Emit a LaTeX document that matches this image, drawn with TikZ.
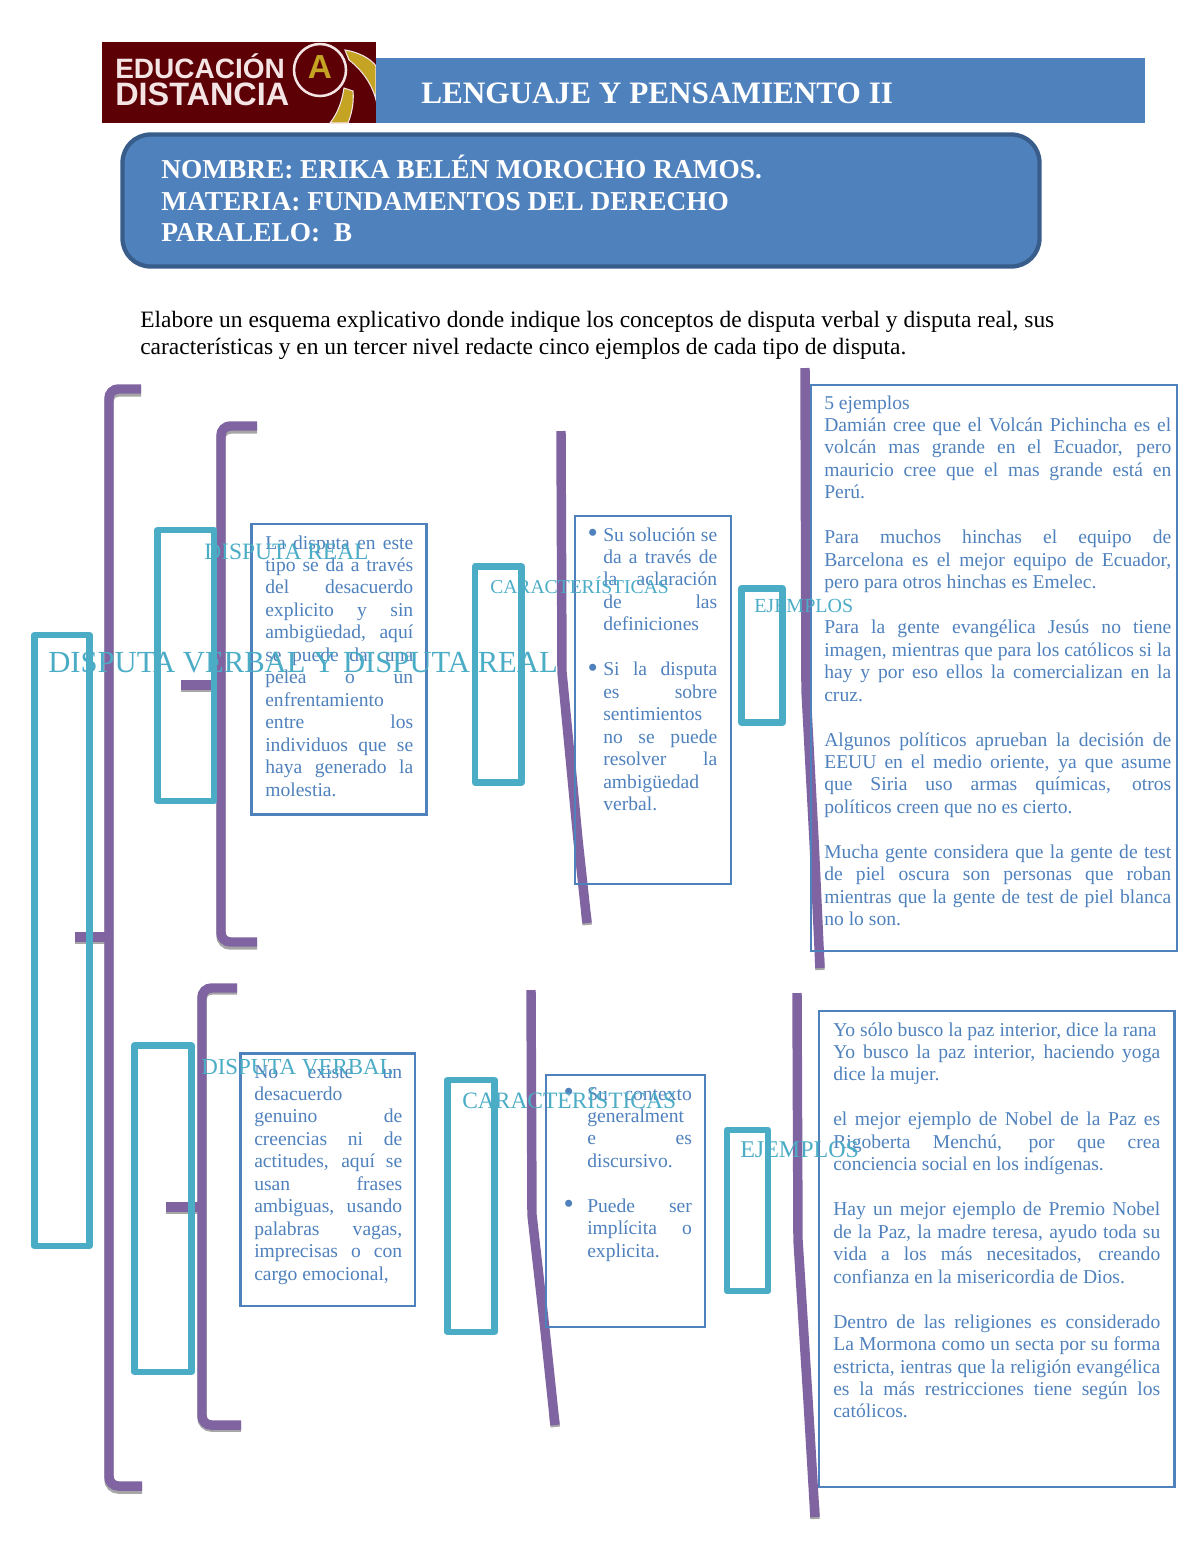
\documentclass[tikz,border=0pt]{standalone}
\usepackage{fontspec}
\usetikzlibrary{fit}
\setmainfont{Liberation Serif}
\newfontfamily\logofont{Liberation Sans}
\definecolor{hdrblue}{HTML}{4F81BD}
\definecolor{hdredge}{HTML}{385D8A}
\definecolor{tealc}{HTML}{4BACC6}
\definecolor{purplec}{HTML}{8064A2}
\definecolor{shadowc}{HTML}{A6A6A6}
\definecolor{maroonc}{HTML}{5C0006}
\definecolor{goldc}{HTML}{C4A422}
\definecolor{logotxt}{HTML}{F4E4E4}
\newcommand\Jl[1]{\hbox to\hsize{#1}}
\newcommand\Ll[1]{\hbox to\hsize{#1\hfil}}
\newcommand\Bl{\hbox{}}
\newcommand\Bu[1]{\llap{\fontsize{22pt}{22pt}\selectfont\raisebox{-1.2pt}{\textbullet}\hskip #1pt}}
\newcommand\bodyfont{\fontsize{14.7pt}{16.85pt}\selectfont}
\tikzset{
  px/.style={x=0.75pt,y=-0.75pt},
  barp/.style={draw=purplec,line width=7.1pt,rounded corners=7pt},
  bars/.style={draw=shadowc,line width=7.1pt,rounded corners=7pt},
  tealbox/.style={draw=tealc,line width=4.9pt,line join=round,inner sep=0pt},
  bluebox/.style={draw=hdrblue,line width=2pt,inner sep=0pt},
  bodytext/.style={anchor=base west,inner sep=0pt,text=hdrblue,font=\bodyfont},
  lbl/.style={anchor=base west,inner sep=0pt,text=tealc},
  hdr/.style={anchor=base west,inner sep=0pt,text=white,font=\bfseries}
}
\begin{document}
\begin{tikzpicture}[px]
\useasboundingbox (0,0) rectangle (1200,1553);
% logo
\fill[maroonc] (102,42) rectangle (376,123);
\fill[goldc,draw=logotxt,line width=0.8pt] (345,50) .. controls (358,52) and (370,58) .. (376,66) -- (376,100) .. controls (372,84) and (362,70) .. (349,60) -- cycle;
\fill[goldc,draw=logotxt,line width=0.8pt] (344,88) .. controls (342,101) and (338,113) .. (330,123) -- (348,123) .. controls (352,113) and (354,102) .. (353,91) -- cycle;
\draw[logotxt,line width=1.9pt,fill=maroonc] (320,70) circle (26);
\node[inner sep=0pt,text=goldc,font=\logofont\bfseries\fontsize{25pt}{25pt}\selectfont] (logoa) at (320,67) {A};
\node[anchor=base west,inner sep=0pt,text=logotxt,font=\logofont\bfseries\fontsize{21pt}{24pt}\selectfont] (logo1) at (115,78) {EDUCACIÓN};
\node[anchor=base west,inner sep=0pt,text=logotxt,font=\logofont\bfseries\fontsize{24.3pt}{24pt}\selectfont] (logo2) at (115,105) {DISTANCIA};
% header bar
\fill[hdrblue] (376,58) rectangle (1145,123);
\node[hdr,font=\bfseries\fontsize{23.4pt}{26pt}\selectfont] (title) at (421,103) {LENGUAJE Y PENSAMIENTO II};
% student box
\draw[fill=hdrblue,draw=hdredge,line width=3.2pt,rounded corners=21pt] (122.5,134.5) rectangle (1039.5,266.5);
\node[hdr,font=\bfseries\fontsize{20.5pt}{24pt}\selectfont] (nombre) at (161,178) {NOMBRE: ERIKA BELÉN MOROCHO RAMOS.};
\node[hdr,font=\bfseries\fontsize{20.5pt}{24pt}\selectfont] (materia) at (161,210) {MATERIA: FUNDAMENTOS DEL DERECHO};
\node[hdr,font=\bfseries\fontsize{20.5pt}{24pt}\selectfont] (paralelo) at (161,241) {PARALELO:\ \ B};
% statement
\node[anchor=base west,inner sep=0pt,font=\fontsize{17.6pt}{20pt}\selectfont] (stmt1) at (140,327) {\hbox to685.5pt{Elabore un esquema explicativo donde indique los conceptos de disputa verbal y disputa real, sus}};
\node[anchor=base west,inner sep=0pt,font=\fontsize{17.6pt}{20pt}\selectfont] (stmt2) at (140,354) {\hbox to574.5pt{características y en un tercer nivel redacte cinco ejemplos de cada tipo de disputa.}};
% purple brackets: shadows
\draw[bars] (141,392) -- (109,392) -- (109,1489) -- (142,1489);
\draw[bars] (75,939) -- (109,939);
\draw[bars] (257,429) -- (221,429) -- (221,945) -- (257,945);
\draw[bars] (181,687) -- (221,687);
\draw[bars] (237,990) -- (202,990) -- (202,1427) -- (241,1427);
\draw[bars] (166,1209) -- (202,1209);
\draw[bars,rounded corners=0pt] (586,913) -- (587.2,925);
\draw[bars,rounded corners=0pt] (819.5,958) -- (820,970);
\draw[bars,rounded corners=0pt] (554,1415) -- (555.2,1427);
\draw[bars,rounded corners=0pt] (814.5,1507) -- (815,1519);
% purple brackets
\draw[barp] (141,389) -- (109,389) -- (109,1486) -- (142,1486);
\draw[barp] (75,937) -- (109,937);
\draw[barp] (257,426) -- (221,426) -- (221,942) -- (257,942);
\draw[barp] (181,685) -- (221,685);
\draw[barp] (237,988) -- (202,988) -- (202,1425) -- (241,1425);
\draw[barp] (166,1207) -- (202,1207);
\draw[barp,rounded corners=0pt] (561,431) -- (562,672) -- (578,840) -- (587,923);
\draw[barp,rounded corners=0pt] (805,368) -- (806,690) -- (814,840) -- (820,968);
\draw[barp,rounded corners=0pt] (531,990) -- (532,1215) -- (545,1330) -- (555,1425);
\draw[barp,rounded corners=0pt] (797,993) -- (798,1240) -- (808,1400) -- (815,1517);
% teal rectangles
\node[tealbox,fit={(34.5,635)(89.5,1246)}] (t1) {};
\node[tealbox,fit={(157.5,530)(214,801)}] (t2) {};
\node[tealbox,fit={(475,566.5)(521.5,782.5)}] (t3) {};
\node[tealbox,fit={(741.5,588.5)(782.5,722.5)}] (t4) {};
\node[tealbox,fit={(134.5,1045.5)(191.5,1372)}] (t5) {};
\node[tealbox,fit={(447.5,1080)(494.5,1332)}] (t6) {};
\node[tealbox,fit={(727,1130)(768,1291)}] (t7) {};
% blue boxes
\node[bluebox,fit={(251.5,524)(426.5,814.5)}] (b1) {};
\node[bluebox,fit={(575,516)(731,884)}] (b2) {};
\node[bluebox,fit={(811,385)(1177,951)}] (b3) {};
\node[bluebox,fit={(240.5,1053.5)(415,1306)}] (b4) {};
\node[bluebox,fit={(546,1075)(705,1327)}] (b5) {};
\node[bluebox,fit={(819,1011)(1174.5,1487)}] (b6) {};
% box texts
\node[bodytext] (x1) at (265,549) {\parbox[t]{111pt}{%
\Jl{La disputa en este}\Jl{tipo se da a través}\Jl{del desacuerdo}\Jl{explicito y sin}\Jl{ambigüedad, aquí}\Jl{se puede dar una}\Jl{pelea o un}\Ll{enfrentamiento}\Jl{entre los}\Jl{individuos que se}\Jl{haya generado la}\Ll{molestia.}}};
\node[bodytext] (x2) at (603,541) {\parbox[t]{85.5pt}{%
\Jl{\Bu{4}Su solución se}\Jl{da a través de}\Jl{la aclaración}\Jl{de las}\Ll{definiciones}\Bl\Jl{\Bu{4}Si la disputa}\Jl{es sobre}\Ll{sentimientos}\Jl{no se puede}\Jl{resolver la}\Ll{ambigüedad}\Ll{verbal.}}};
\node[bodytext] (x3) at (824,409) {\parbox[t]{260.25pt}{%
\Ll{5 ejemplos}\Jl{Damián cree que el Volcán Pichincha es el}\Jl{volcán mas grande en el Ecuador, pero}\Jl{mauricio cree que el mas grande está en}\Ll{Perú.}\Bl
\Jl{Para muchos hinchas el equipo de}\Jl{Barcelona es el mejor equipo de Ecuador,}\Ll{pero para otros hinchas es Emelec.}\Bl
\Jl{Para la gente evangélica Jesús no tiene}\Jl{imagen, mientras que para los católicos si la}\Jl{hay y por eso ellos la comercializan en la}\Ll{cruz.}\Bl
\Jl{Algunos políticos aprueban la decisión de}\Jl{EEUU en el medio oriente, ya que asume}\Jl{que Siria uso armas químicas, otros}\Ll{políticos creen que no es cierto.}\Bl
\Jl{Mucha gente considera que la gente de test}\Jl{de piel oscura son personas que roban}\Jl{mientras que la gente de test de piel blanca}\Ll{no lo son.}}};
\node[bodytext] (x4) at (254,1078) {\parbox[t]{111pt}{%
\Jl{No existe un}\Ll{desacuerdo}\Jl{genuino de}\Jl{creencias ni de}\Jl{actitudes, aquí se}\Jl{usan frases}\Jl{ambiguas, usando}\Jl{palabras vagas,}\Jl{imprecisas o con}\Ll{cargo emocional,}}};
\node[bodytext] (x5) at (587,1100) {\parbox[t]{78.5pt}{%
\Jl{\Bu{10}Su contexto}\Ll{generalment}\Jl{e es}\Ll{discursivo.}\Bl\Jl{\Bu{10}Puede ser}\Jl{implícita o}\Ll{explicita.}}};
\node[bodytext] (x6) at (833,1036) {\parbox[t]{245.25pt}{%
\Ll{Yo sólo busco la paz interior, dice la rana}\Jl{Yo busco la paz interior, haciendo yoga}\Ll{dice la mujer.}\Bl
\Jl{el mejor ejemplo de Nobel de la Paz es}\Jl{Rigoberta Menchú, por que crea}\Ll{conciencia social en los indígenas.}\Bl
\Jl{Hay un mejor ejemplo de Premio Nobel}\Jl{de la Paz, la madre teresa, ayudo toda su}\Jl{vida a los más necesitados, creando}\Ll{confianza en la misericordia de Dios.}\Bl
\Jl{Dentro de las religiones es considerado}\Jl{La Mormona como un secta por su forma}\Jl{estricta, ientras que la religión evangélica}\Jl{es la más restricciones tiene según los}\Ll{católicos.}}};
% labels
\node[lbl,font=\fontsize{23pt}{26pt}\selectfont] (l1) at (48,672) {DISPUTA VERBAL Y DISPUTA REAL};
\node[lbl,font=\fontsize{17.6pt}{20pt}\selectfont] (l2) at (204,559) {DISPUTA REAL};
\node[lbl,font=\fontsize{14.7pt}{18pt}\selectfont] (l3) at (490,593) {CARACTERÍSTICAS};
\node[lbl,font=\fontsize{15pt}{18pt}\selectfont] (l4) at (754,612) {EJEMPLOS};
\node[lbl,font=\fontsize{17.2pt}{20pt}\selectfont] (l5) at (201,1074) {DISPUTA VERBAL};
\node[lbl,font=\fontsize{17.6pt}{20pt}\selectfont] (l6) at (462,1108) {CARACTERÍSTICAS};
\node[lbl,font=\fontsize{18pt}{20pt}\selectfont] (l7) at (740,1157) {EJEMPLOS};
\end{tikzpicture}
\end{document}
